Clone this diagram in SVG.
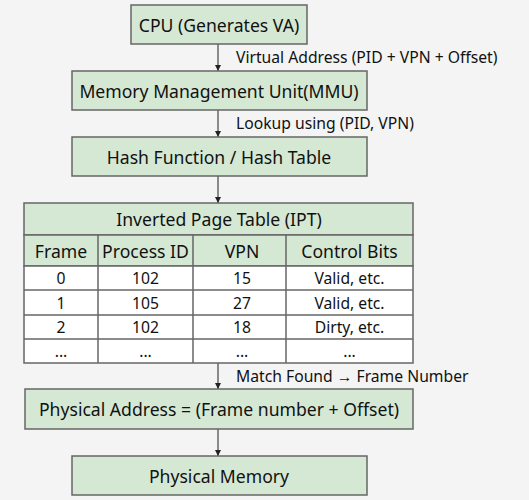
<svg xmlns="http://www.w3.org/2000/svg" width="529" height="500" viewBox="0 0 529 500">
<defs>
<style>
.box{fill:#d5e8d4;stroke:#666;stroke-width:1.5}
.cell{fill:#fff;stroke:#666;stroke-width:1.5}
.line{stroke:#666;stroke-width:1.5;fill:none}
.t{font-family:"Noto Sans","Open Sans",sans-serif;font-size:17.6px;fill:#111;text-anchor:middle;dominant-baseline:central}
.c{font-family:"Noto Sans","Open Sans",sans-serif;font-size:15.7px;fill:#111;text-anchor:middle;dominant-baseline:central}
.l{font-family:"Noto Sans","Open Sans",sans-serif;font-size:15.7px;fill:#111;dominant-baseline:central}
.conn{stroke:#444;stroke-width:1.2;fill:none;marker-end:url(#ah)}
</style>
<marker id="ah" viewBox="0 0 6 6" refX="6" refY="3" markerWidth="6" markerHeight="6" markerUnits="userSpaceOnUse" orient="auto">
<path d="M0,0 L6,3 L0,6 Z" fill="#222"/>
</marker>
</defs>
<rect width="529" height="500" fill="#f4f4f4"/>
<g id="connectors">
<line class="conn" x1="218" y1="44" x2="218" y2="71"/>
<line class="conn" x1="218" y1="110" x2="218" y2="137"/>
<line class="conn" x1="218" y1="176" x2="218" y2="203"/>
<line class="conn" x1="218" y1="363" x2="218" y2="389"/>
<line class="conn" x1="218" y1="429" x2="218" y2="456"/>
<text class="l" x="236" y="57">Virtual Address (PID + VPN + Offset)</text>
<text class="l" x="236" y="123">Lookup using (PID, VPN)</text>
<text class="l" x="236" y="376">Match Found → Frame Number</text>
</g>
<g id="cpu">
<rect class="box" x="131" y="5" width="176" height="39"/>
<text class="t" x="219" y="25">CPU (Generates VA)</text>
</g>
<g id="mmu">
<rect class="box" x="72" y="71" width="295" height="39"/>
<text class="t" x="219" y="91">Memory Management Unit(MMU)</text>
</g>
<g id="hash">
<rect class="box" x="72" y="137" width="295" height="39"/>
<text class="t" x="219" y="157">Hash Function / Hash Table</text>
</g>
<g id="ipt">
<rect class="box" x="24" y="203" width="389" height="32"/>
<text class="t" x="219" y="219">Inverted Page Table (IPT)</text>
<rect class="box" x="24" y="235" width="389" height="31"/>
<rect class="cell" x="24" y="266" width="389" height="97"/>
<line class="line" x1="24" y1="290" x2="413" y2="290"/>
<line class="line" x1="24" y1="315" x2="413" y2="315"/>
<line class="line" x1="24" y1="339" x2="413" y2="339"/>
<line class="line" x1="98" y1="235" x2="98" y2="363"/>
<line class="line" x1="193" y1="235" x2="193" y2="363"/>
<line class="line" x1="286" y1="235" x2="286" y2="363"/>
<text class="t" x="61" y="251">Frame</text>
<text class="t" x="145.5" y="251">Process ID</text>
<text class="t" x="242" y="251">VPN</text>
<text class="t" x="349.5" y="251">Control Bits</text>
<text class="c" x="61" y="278">0</text>
<text class="c" x="145.5" y="278">102</text>
<text class="c" x="242" y="278">15</text>
<text class="c" x="349.5" y="278">Valid, etc.</text>
<text class="c" x="61" y="303">1</text>
<text class="c" x="145.5" y="303">105</text>
<text class="c" x="242" y="303">27</text>
<text class="c" x="349.5" y="303">Valid, etc.</text>
<text class="c" x="61" y="327">2</text>
<text class="c" x="145.5" y="327">102</text>
<text class="c" x="242" y="327">18</text>
<text class="c" x="349.5" y="327">Dirty, etc.</text>
<text class="c" x="61" y="351">...</text>
<text class="c" x="145.5" y="351">...</text>
<text class="c" x="242" y="351">...</text>
<text class="c" x="349.5" y="351">...</text>
</g>
<g id="pa">
<rect class="box" x="25" y="389" width="388" height="40"/>
<text class="t" x="219" y="409">Physical Address = (Frame number + Offset)</text>
</g>
<g id="pm">
<rect class="box" x="72" y="456" width="295" height="39"/>
<text class="t" x="219" y="476">Physical Memory</text>
</g>
</svg>
